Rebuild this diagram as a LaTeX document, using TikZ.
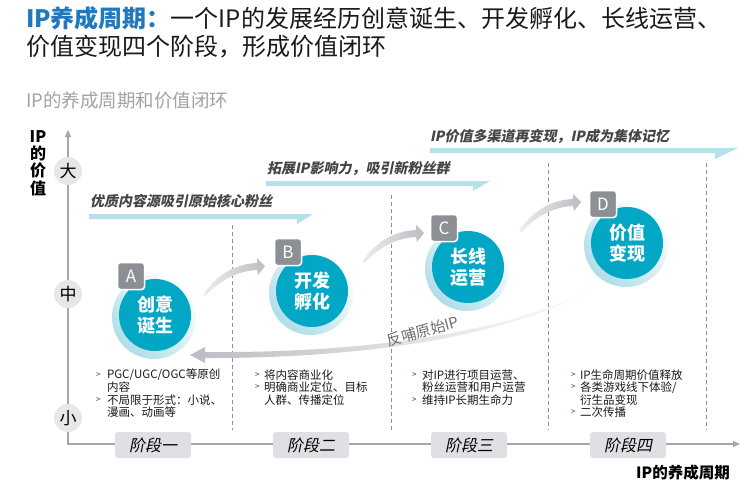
\documentclass[tikz,border=0pt]{standalone}
\usepackage{fontspec}
\setmainfont{Noto Sans CJK SC}
\newfontfamily\slantcjk{Noto Sans CJK SC}[FakeSlant=0.2]
\usetikzlibrary{arrows.meta,calc}
\definecolor{titleblue}{HTML}{2079BD}
\definecolor{subgray}{HTML}{A3A3A3}
\definecolor{tealc}{HTML}{03A7C6}
\definecolor{halo}{HTML}{AEDDE8}
\definecolor{bannerblue}{HTML}{B7E1EA}
\definecolor{bantextgray}{HTML}{454545}
\definecolor{badgegray}{HTML}{8C8F94}
\definecolor{stagegray}{HTML}{DFE0E3}
\definecolor{axisgray}{HTML}{A3A6AB}
\definecolor{ycircgray}{HTML}{E6E7E9}
\definecolor{dashgray}{HTML}{8E9196}
\definecolor{arrlight}{HTML}{ECEDEF}
\definecolor{arrdark}{HTML}{BABDC2}
\definecolor{arrmid}{HTML}{D2D4D8}
\definecolor{navy}{HTML}{233A6B}
\definecolor{textblack}{HTML}{1A1A1A}
\definecolor{fbgray}{HTML}{6E6E6E}
\tikzset{
  bendarrow/.pic={
    \shade[left color=arrlight, right color=arrdark]
      (0,0) .. controls (12,-18) and (30,-31) .. (54,-32) -- (54,-37) -- (62,-29)
      -- (55,-20) -- (54,-25) .. controls (32,-24) and (14,-12) .. (2.5,1) -- cycle;
  }
}
\begin{document}
\begin{tikzpicture}[x=1pt,y=-1pt,
  every node/.style={inner sep=0pt, outer sep=0pt},
  banner/.style={fill=bannerblue, draw=none},
  bantext/.style={anchor=west, text=bantextgray, font=\slantcjk\bfseries\fontsize{14}{16}\selectfont},
  stagebox/.style={fill=stagegray, rounded corners=3pt, minimum width=76pt, minimum height=26pt, font=\slantcjk\fontsize{16}{18}\selectfont, text=black},
  ycirc/.style={circle, fill=ycircgray, minimum size=28pt, font=\fontsize{17}{18}\selectfont},
  core/.style={circle, fill=tealc, minimum size=72pt, text=white, align=center, font=\bfseries\fontsize{18}{20.5}\selectfont},
  badge/.style={fill=badgegray, draw=white, line width=1.5pt, rounded corners=3pt, minimum size=27pt, text=white, font=\fontsize{17}{18}\selectfont},
  btext/.style={anchor=west, font=\fontsize{11.5}{12}\selectfont, text=textblack},
  bmark/.style={anchor=west, font=\fontsize{8}{9}\selectfont, text=navy},
  dashline/.style={draw=dashgray, line width=0.8pt, dash pattern=on 4pt off 3pt},
  axisline/.style={draw=axisgray, line width=1.2pt}
]
\useasboundingbox (0,0) rectangle (754,490);
\fill[white] (0,0) rectangle (754,490);

% titles
\node[anchor=west, font=\fontsize{24}{28}\selectfont, text=textblack] (t1) at (26,18)
  {{\color{titleblue}\bfseries IP养成周期：}一个IP的发展经历创意诞生、开发孵化、长线运营、};
\node[anchor=west, font=\fontsize{24}{28}\selectfont, text=textblack] (t2) at (26,47)
  {价值变现四个阶段，形成价值闭环};
\node[anchor=west, font=\fontsize{18.5}{20}\selectfont, text=subgray] (sub) at (26,100)
  {IP的养成周期和价值闭环};

% banners
\fill[banner] (89,214) -- (313,214) -- (297,224) -- (297,219) -- (89,219) -- cycle;
\fill[banner] (266,181) -- (490,181) -- (473,191) -- (473,186) -- (266,186) -- cycle;
\fill[banner] (430,148) -- (738,148) -- (715,159) -- (715,153) -- (430,153) -- cycle;
\node[bantext] (b1) at (90,201) {优质内容源吸引原始核心粉丝};
\node[bantext] (b2) at (267,169) {拓展IP影响力，吸引新粉丝群};
\node[bantext] (b3) at (430,136) {IP价值多渠道再变现，IP成为集体记忆};

% dashed separators
\draw[dashline] (232,225) -- (232,430);
\draw[dashline] (391,195) -- (391,430);
\draw[dashline] (548,163) -- (548,430);
\draw[dashline] (706,163) -- (706,430);

% axes
\draw[axisline, {Triangle[length=7pt,width=6pt]}-{Triangle[length=7pt,width=6pt]}]
  (68,130) -- (68,444) -- (740,444);
\node[ycirc] (big) at (68,171) {大};
\node[ycirc] (mid) at (68,294) {中};
\node[ycirc] (small) at (68,418) {小};
\node[align=center, font=\bfseries\fontsize{16}{17.3}\selectfont, text=black] (ylab) at (38,163) {IP\\的\\价\\值};
\node[font=\bfseries\fontsize{15.5}{17}\selectfont, text=black] (xlab) at (683,473) {IP的养成周期};

% stage boxes
\node[stagebox] (s1) at (153,445) {阶段一};
\node[stagebox] (s2) at (311,445) {阶段二};
\node[stagebox] (s3) at (469,445) {阶段三};
\node[stagebox] (s4) at (628,445) {阶段四};

% circle centres
\coordinate (cA) at (155,315);
\coordinate (cB) at (312,291);
\coordinate (cC) at (468,267);
\coordinate (cD) at (627,243);

% halos
\foreach \c in {cA,cB,cC,cD}{
  \shade[top color=white, bottom color=halo, shading angle=-45] ([xshift=-1pt,yshift=-2pt]\c) circle[radius=42pt];
}

% return arrow (D back to A)
\shade[left color=arrdark, middle color=arrmid, right color=white]
  (190,355) -- (205,347) -- (205,352) .. controls (380,353.5) and (520,328.5) .. (595,286.5)
  -- (595,287.5) .. controls (520,332) and (380,358.5) .. (205,358) -- (205,363) -- cycle;
\node[rotate=15, font=\fontsize{15}{16}\selectfont, text=fbgray] (fb) at (423,331) {反哺原始IP};

% core circles
\node[core] (A) at (cA) {创意\\诞生};
\node[core] (B) at (cB) {开发\\孵化};
\node[core] (C) at (cC) {长线\\运营};
\node[core] (D) at (cD) {价值\\变现};

% badges
\node[badge] (bA) at ([xshift=-24pt,yshift=39pt]cA) {A};
\node[badge] (bB) at ([xshift=-24pt,yshift=39pt]cB) {B};
\node[badge] (bC) at ([xshift=-24pt,yshift=39pt]cC) {C};
\node[badge] (bD) at ([xshift=-24pt,yshift=39pt]cD) {D};

% forward arrows
\coordinate (tAB) at (203,295);
\coordinate (tBC) at (362,262);
\coordinate (tCD) at (519,231);
\pic at (tAB) {bendarrow};
\pic at (tBC) {bendarrow};
\pic at (tCD) {bendarrow};

% bullets stage 1
\node[bmark] (m11) at (96,375) {>};
\node[btext] (l11) at (107,375) {PGC/UGC/OGC等原创};
\node[btext] (l12) at (107,387.5) {内容};
\node[bmark] (m13) at (96,400) {>};
\node[btext] (l13) at (107,400) {不局限于形式：小说、};
\node[btext] (l14) at (107,412.5) {漫画、动画等};
% stage 2
\node[bmark] (m21) at (255,375) {>};
\node[btext] (l21) at (264,375) {将内容商业化};
\node[bmark] (m22) at (255,387.5) {>};
\node[btext] (l22) at (264,387.5) {明确商业定位、目标};
\node[btext] (l23) at (264,400) {人群、传播定位};
% stage 3
\node[bmark] (m31) at (412,375) {>};
\node[btext] (l31) at (422,375) {对IP进行项目运营、};
\node[btext] (l32) at (422,387.5) {粉丝运营和用户运营};
\node[bmark] (m33) at (412,400) {>};
\node[btext] (l33) at (422,400) {维持IP长期生命力};
% stage 4
\node[bmark] (m41) at (571,375) {>};
\node[btext] (l41) at (580,375) {IP生命周期价值释放};
\node[bmark] (m42) at (571,387.5) {>};
\node[btext] (l42) at (580,387.5) {各类游戏线下体验/};
\node[btext] (l43) at (580,400) {衍生品变现};
\node[bmark] (m44) at (571,412.5) {>};
\node[btext] (l44) at (580,412.5) {二次传播};
\end{tikzpicture}
\end{document}
